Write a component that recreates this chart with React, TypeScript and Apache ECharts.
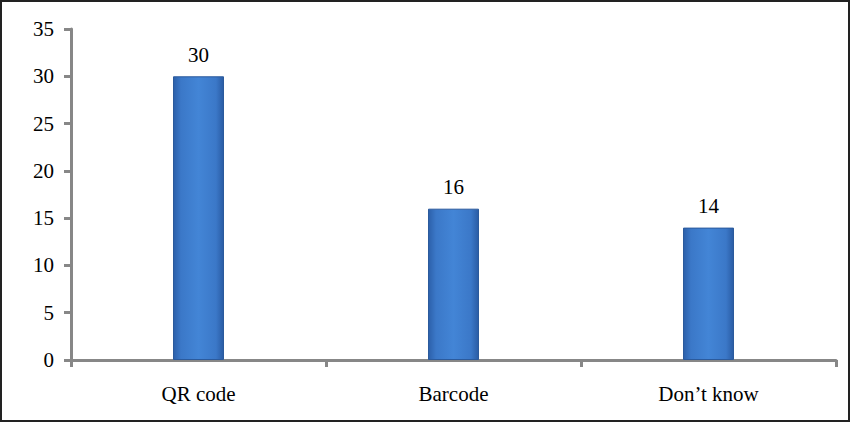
import { useEffect, useRef } from "react";
import * as echarts from "echarts";

const categories = ["QR code", "Barcode", "Don\u2019t know"];
const counts = [30, 16, 14];
const yTicks = [0, 5, 10, 15, 20, 25, 30, 35];

const FONT = "'Liberation Serif', 'Times New Roman', serif";
const AXIS_GREY = "#878787";

export default function App() {
  const ref = useRef<HTMLDivElement>(null);

  useEffect(() => {
    document.body.style.margin = "0";
    if (!ref.current) return;
    const chart = echarts.init(ref.current, null, { renderer: "svg" });
    chart.setOption({
      animation: false,
      backgroundColor: "#ffffff",
      grid: { left: 69, right: 12, top: 27, bottom: 60, containLabel: false },
      xAxis: {
        type: "category",
        data: categories,
        boundaryGap: true,
        axisLine: { lineStyle: { color: AXIS_GREY, width: 3 } },
        axisTick: { show: true, alignWithLabel: false, length: 7, lineStyle: { color: AXIS_GREY, width: 3 } },
        axisLabel: { color: "#000", fontFamily: FONT, fontSize: 21, margin: 23 },
      },
      yAxis: {
        type: "value",
        min: yTicks[0],
        max: yTicks[yTicks.length - 1],
        interval: 5,
        splitLine: { show: false },
        axisLine: { show: true, lineStyle: { color: AXIS_GREY, width: 3 } },
        axisTick: { show: true, length: 7, lineStyle: { color: AXIS_GREY, width: 3 } },
        axisLabel: { color: "#000", fontFamily: FONT, fontSize: 21, margin: 17 },
      },
      series: [
        {
          type: "bar",
          data: counts,
          barWidth: "20%",
          itemStyle: {
            color: new echarts.graphic.LinearGradient(0, 0, 1, 0, [
              { offset: 0, color: "#2c60aa" },
              { offset: 0.15, color: "#3b78c8" },
              { offset: 0.5, color: "#4385d6" },
              { offset: 0.85, color: "#3b78c8" },
              { offset: 1, color: "#2a5ca4" },
            ]),
            borderColor: "#2b5a9c",
            borderWidth: 1,
          },
          label: {
            show: true,
            position: "top",
            distance: 11,
            color: "#000",
            fontFamily: FONT,
            fontSize: 21,
          },
        },
      ],
    });
    return () => chart.dispose();
  }, []);

  return (
    <div
      style={{
        position: "absolute",
        left: 0,
        top: 0,
        width: 850,
        height: 422,
        boxSizing: "border-box",
        border: "2px solid #222",
        background: "#fff",
      }}
    >
      <div ref={ref} style={{ width: 846, height: 418 }} />
    </div>
  );
}
